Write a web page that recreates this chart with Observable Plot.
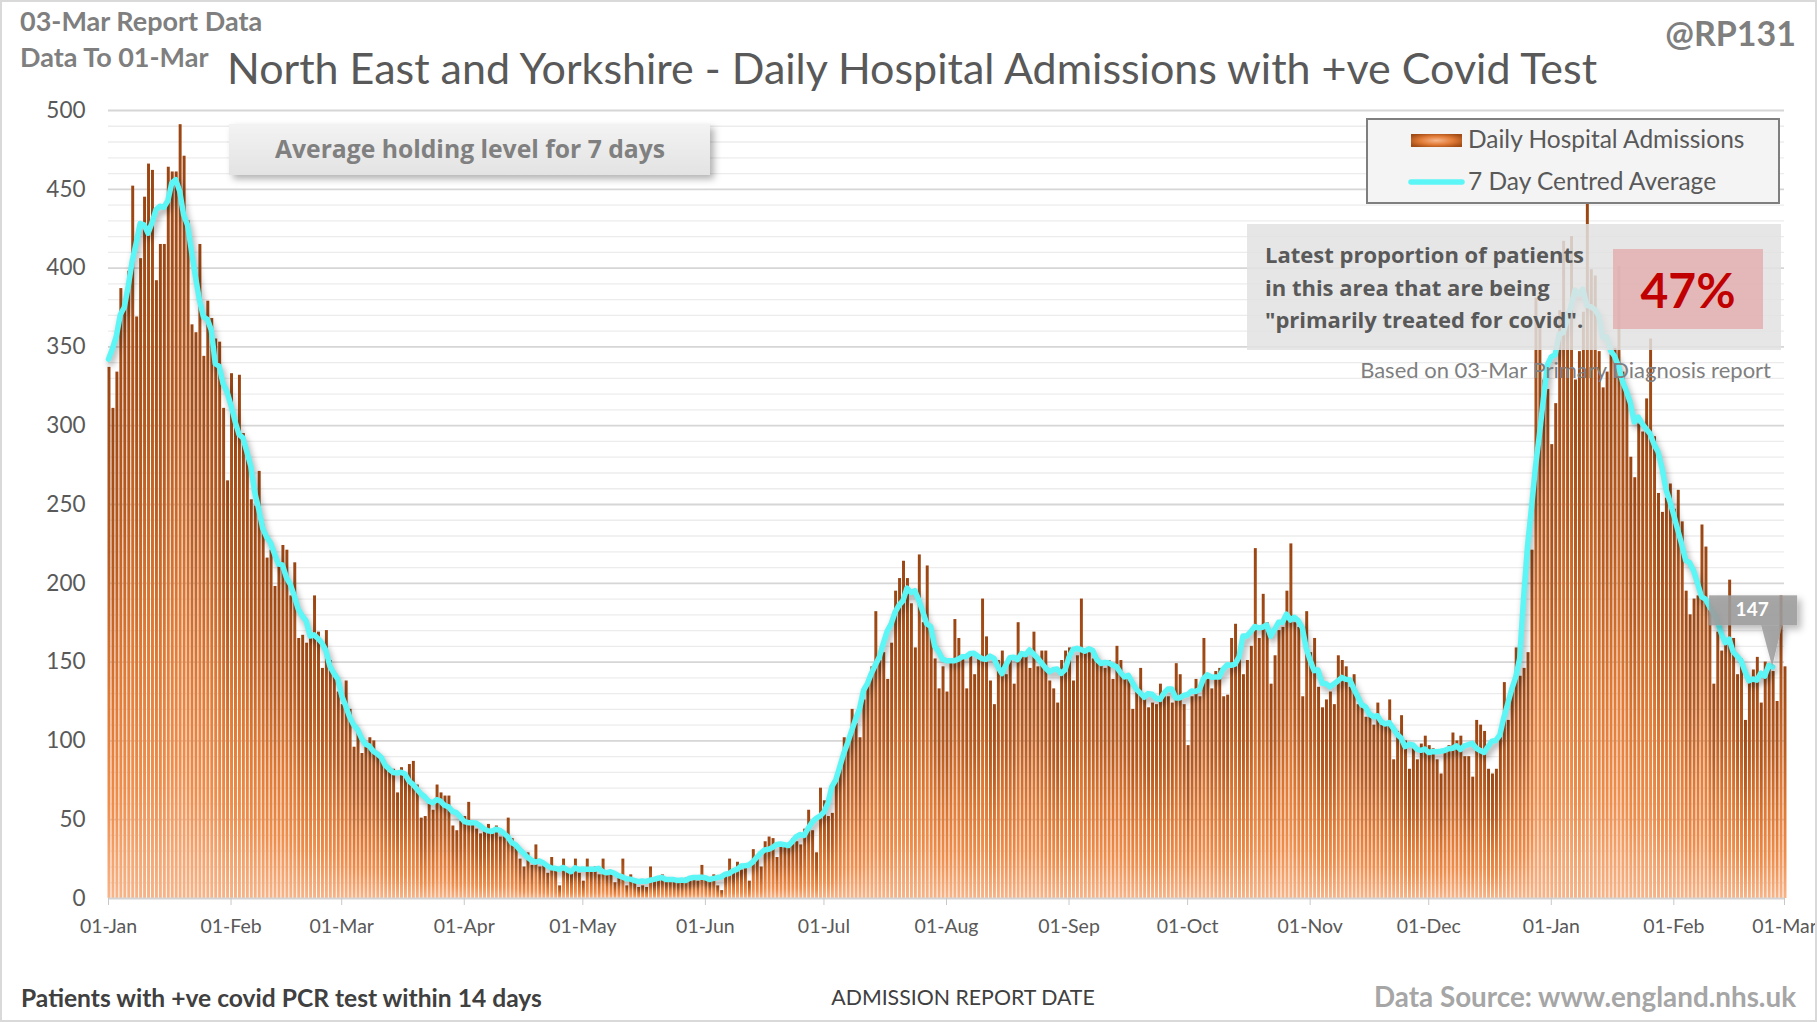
<!DOCTYPE html>
<html>
<head>
<meta charset="utf-8">
<script src="https://cdn.jsdelivr.net/npm/d3@7"></script>
<script src="https://cdn.jsdelivr.net/npm/@observablehq/plot@0.6"></script>
<style>
  html, body { margin: 0; padding: 0; background: #fff; }
  #page { position: relative; width: 1817px; height: 1022px; overflow: hidden; background: #fff; }
  #chart, #notes { position: absolute; left: 0; top: 0; }
  #notes { pointer-events: none; }
  text { font-family: Lato, "Open Sans", sans-serif; }
  text.boxed { font-family: "Open Sans", Lato, sans-serif; }
</style>
</head>
<body>
<div id="page">
  <div id="chart"></div>
  <svg id="notes" width="1817" height="1022"></svg>
</div>
<script>
// Daily hospital admissions with a positive covid test, North East and Yorkshire,
// one value per admission day, grouped by month.
const jan21 = [337,311,334,387,375,398,452,369,406,445,466,462,392,415,415,464,461,461,491,471,430,364,359,415,344,379,368,355,353,311,265];
const feb21 = [333,301,332,295,283,253,249,271,237,216,221,198,213,224,221,192,213,165,167,162,165,192,169,146,170,151,142,131];
const mar21 = [123,138,120,96,106,92,97,102,100,92,88,83,80,82,67,83,77,85,87,72,51,52,62,56,72,67,65,65,46,43,49];
const apr21 = [52,61,47,44,41,43,47,41,46,39,41,51,38,34,25,20,29,21,34,20,21,16,26,20,8,25,18,16,25,16];
const may21 = [11,25,18,20,15,25,16,15,10,13,25,8,15,10,7,8,7,20,11,13,15,11,13,11,10,11,13,11,13,11,21];
const jun21 = [13,11,15,8,5,16,25,16,23,18,20,11,31,26,20,36,39,38,26,34,34,33,38,36,34,44,56,43,29,70];
const jul21 = [62,52,54,74,83,102,100,120,111,102,126,136,147,182,151,156,139,162,195,203,214,203,187,159,218,175,211,172,152,133,147];
const aug21 = [131,151,177,165,152,133,154,142,152,190,166,138,123,151,157,142,152,136,175,156,154,146,169,147,157,157,138,133,124,151,157];
const sep21 = [159,138,154,190,157,156,152,151,149,146,151,139,160,151,141,142,120,131,146,129,121,124,123,136,128,128,124,149,142,123];
const oct21 = [97,128,139,128,165,139,133,144,146,128,129,165,174,152,142,151,160,222,165,193,175,136,154,170,172,195,225,175,172,128,182];
const nov21 = [156,165,134,121,126,131,123,154,151,147,134,142,123,121,115,116,110,124,110,111,126,88,106,116,100,82,95,88,98,103];
const dec21 = [97,95,88,79,93,97,105,100,103,90,90,77,113,110,106,82,79,82,103,137,113,131,159,141,146,156,221,381,362,329,323];
const jan22 = [288,314,373,417,372,420,329,347,372,445,399,395,347,324,334,345,349,401,334,322,280,267,301,296,317,355,293,257,245,254,263];
const feb22 = [247,259,239,195,180,190,192,237,223,183,136,169,157,165,202,165,142,152,113,138,145,153,124,150,147,144,125,192];
const mar22 = [147];

const yTicks = [0, 50, 100, 150, 200, 250, 300, 350, 400, 450, 500];
const proportionPrimary = "47%";

const DAY = 864e5;
const first = new Date(Date.UTC(2021, 0, 1));
const last = new Date(Date.UTC(2022, 2, 1));
const values = [].concat(jan21, feb21, mar21, apr21, may21, jun21, jul21, aug21, sep21, oct21, nov21, dec21, jan22, feb22, mar22);
const days = values.map((value, i) => ({date: new Date(+first + i * DAY), value}));

// 7-day centred average; the final three days have no complete window yet
const centred = days.map((d, i) => ({
  date: d.date,
  avg: i + 3 < days.length ? d3.mean(values.slice(Math.max(0, i - 3), i + 4)) : NaN
}));
const lastAvg = centred.filter(d => !isNaN(d.avg)).at(-1);

const monthTicks = d3.utcMonth.range(first, new Date(+last + DAY));

const chart = Plot.plot({
  width: 1817,
  height: 1022,
  marginLeft: 108,
  marginRight: 33,
  marginTop: 110,
  marginBottom: 124,
  style: {background: "transparent", color: "#595959", fontFamily: "Lato, sans-serif", overflow: "visible"},
  x: {type: "utc", domain: [first, last]},
  y: {domain: [0, 500]},
  marks: [
    Plot.gridY(d3.range(10, 500, 10).filter(v => v % 50), {stroke: "#ececec", strokeOpacity: 1, strokeWidth: 1.3}),
    Plot.gridY(yTicks.filter(v => v > 0), {stroke: "#d6d6d6", strokeOpacity: 1, strokeWidth: 1.8}),
    Plot.rect(days, {
      x1: d => new Date(+d.date - DAY / 4),
      x2: d => new Date(+d.date + DAY * 3 / 4),
      y1: 0,
      y2: "value",
      fill: "url(#barShade)",
      insetLeft: 0.5,
      insetRight: 0.5
    }),
    Plot.lineY(centred, {
      x: "date", y: "avg",
      stroke: "#5cf6f6", strokeWidth: 5.5, strokeLinejoin: "round", strokeLinecap: "round",
      imageFilter: "drop-shadow(2px 4px 3px rgba(0,0,0,0.35))"
    }),
    Plot.ruleY([0], {stroke: "#d3d3d3", strokeWidth: 2}),
    Plot.axisX(monthTicks, {
      tickFormat: d3.utcFormat("%d-%b"), tickSize: 7, tickPadding: 14,
      fontSize: 19.5, stroke: "#c8c8c8", fill: "#595959", label: null
    }),
    Plot.axisY(yTicks, {tickSize: 0, tickPadding: 23, fontSize: 22.5, fill: "#595959", label: null})
  ]
});
document.getElementById("chart").append(chart);

// vertical shading of every bar: dark brown at the top, pale orange at the base
d3.select(chart).insert("defs", ":first-child").html(`
  <linearGradient id="barShade" x1="0" y1="0" x2="0" y2="1">
    <stop offset="0" stop-color="#9a4512"/>
    <stop offset="0.35" stop-color="#b95b1f"/>
    <stop offset="0.62" stop-color="#df7934"/>
    <stop offset="0.82" stop-color="#ef8d4b"/>
    <stop offset="1" stop-color="#f7b488"/>
  </linearGradient>`);

const notes = d3.select("#notes");
notes.append("defs").html(`
  <filter id="shadow" x="-20%" y="-40%" width="140%" height="200%">
    <feDropShadow dx="4" dy="4" stdDeviation="3.5" flood-color="#000" flood-opacity="0.3"/>
  </filter>
  <linearGradient id="holdFill" x1="0" y1="0" x2="0" y2="1">
    <stop offset="0" stop-color="#f3f3f3"/>
    <stop offset="1" stop-color="#e3e3e3"/>
  </linearGradient>
  <radialGradient id="swatch" cx="0.5" cy="0.5" r="0.6">
    <stop offset="0" stop-color="#f7b58a"/>
    <stop offset="0.55" stop-color="#e07a36"/>
    <stop offset="1" stop-color="#a24c15"/>
  </radialGradient>`);

function label(x, y, str, {size = 20, weight = "normal", fill = "#595959", anchor = "start", cls = null} = {}) {
  return notes.append("text")
    .attr("class", cls)
    .attr("x", x).attr("y", y)
    .attr("font-size", size).attr("font-weight", weight)
    .attr("fill", fill).attr("text-anchor", anchor)
    .text(str);
}

// header
label(20, 31, "03-Mar Report Data", {size: 27, weight: "bold", fill: "#7f7f7f"});
label(20, 67, "Data To 01-Mar", {size: 27, weight: "bold", fill: "#7f7f7f"});
label(227, 84, "North East and Yorkshire - Daily Hospital Admissions with +ve Covid Test", {size: 43, fill: "#595959"});
label(1796, 46, "@RP131", {size: 34, weight: "bold", fill: "#7f7f7f", anchor: "end"});

// note box, top left
notes.append("rect").attr("x", 229).attr("y", 124).attr("width", 481).attr("height", 51)
  .attr("fill", "url(#holdFill)").attr("filter", "url(#shadow)");
label(470, 158, "Average holding level for 7 days", {size: 24.7, weight: "bold", fill: "#808080", anchor: "middle", cls: "boxed"});

// legend
notes.append("rect").attr("x", 1367).attr("y", 119).attr("width", 412).attr("height", 84)
  .attr("fill", "#f4f4f4").attr("stroke", "#7f7f7f").attr("stroke-width", 2);
notes.append("rect").attr("x", 1411).attr("y", 134).attr("width", 51).attr("height", 13).attr("fill", "url(#swatch)");
label(1468, 148, "Daily Hospital Admissions", {size: 24.5});
notes.append("line").attr("x1", 1411).attr("x2", 1462).attr("y1", 182).attr("y2", 182)
  .attr("stroke", "#5cf6f6").attr("stroke-width", 5.5).attr("stroke-linecap", "round");
label(1468, 190, "7 Day Centred Average", {size: 24.5});

// primary-diagnosis panel
notes.append("rect").attr("x", 1247).attr("y", 224).attr("width", 534).attr("height", 126)
  .attr("fill", "#e2e2e2").attr("fill-opacity", 0.85);
label(1265, 263, "Latest proportion of patients", {size: 22, weight: "bold", cls: "boxed"});
label(1265, 296, "in this area that are being", {size: 22, weight: "bold", cls: "boxed"});
label(1265, 328, "\"primarily treated for covid\".", {size: 22, weight: "bold", cls: "boxed"});
notes.append("rect").attr("x", 1613).attr("y", 249).attr("width", 150).attr("height", 80)
  .attr("fill", "#e3aeb0").attr("fill-opacity", 0.85);
label(1688, 308, proportionPrimary, {size: 48, weight: "bold", fill: "#c00000", anchor: "middle"});
label(1771, 378, "Based on 03-Mar Primary Diagnosis report", {size: 22, fill: "#7f7f7f", anchor: "end"});

// callout on the latest complete 7-day average
const px = chart.scale("x").apply(lastAvg.date);
const py = chart.scale("y").apply(lastAvg.avg);
const call = notes.append("g").attr("filter", "url(#shadow)").attr("fill", "#9d9d9d").attr("fill-opacity", 0.88);
call.append("rect").attr("x", px - 63).attr("y", py - 71).attr("width", 88).attr("height", 30);
call.append("path").attr("d", `M${px - 11},${py - 41}L${px + 10},${py - 41}L${px},${py}Z`);
label(px - 20, py - 50, d3.format(".0f")(lastAvg.avg), {size: 19, weight: "bold", fill: "#ffffff", anchor: "middle"});

// footer
label(21, 1007, "Patients with +ve covid PCR test within 14 days", {size: 24.6, weight: "bold", fill: "#404040"});
label(963, 1005, "ADMISSION REPORT DATE", {size: 21.3, fill: "#404040", anchor: "middle"});
label(1796, 1007, "Data Source: www.england.nhs.uk", {size: 27.8, weight: "bold", fill: "#a6a6a6", anchor: "end"});

// outer frame
notes.append("rect").attr("x", 1).attr("y", 1).attr("width", 1815).attr("height", 1020)
  .attr("fill", "none").attr("stroke", "#d9d9d9").attr("stroke-width", 2);
</script>
</body>
</html>
